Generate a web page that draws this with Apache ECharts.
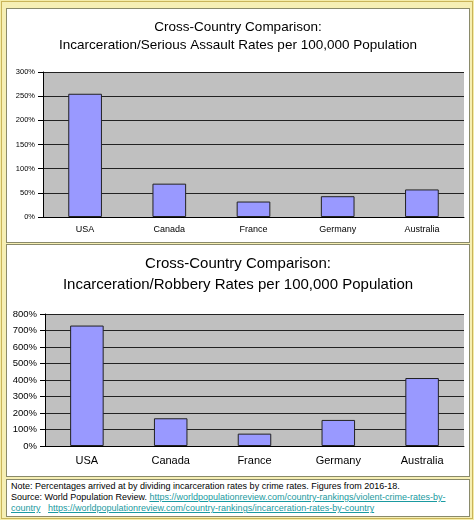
<!DOCTYPE html>
<html><head><meta charset="utf-8">
<script src="https://cdn.jsdelivr.net/npm/echarts@6/dist/echarts.min.js"></script>
<style>
body{margin:0;background:#f4eca8;font-family:Arial,"Liberation Sans",sans-serif;}
#frame{position:absolute;left:1px;top:1px;width:470px;height:516px;border:1px solid #c9b45a;background:#f6efb4;}
.panel{position:absolute;left:4px;width:462px;background:#fff;border:1px solid #8a8a6a;}
#note{position:absolute;left:4px;top:477px;width:454px;height:34px;background:#fff;border:1px solid #8a8a6a;font-size:9px;line-height:11px;padding:1px 4px;color:#000;}
#note a{color:#1a9aa0;}
</style></head>
<body>
<div id="frame">
  <div class="panel" id="p1" style="top:6px;height:233px"></div>
  <div class="panel" id="p2" style="top:242px;height:231px"></div>
  <div id="note">Note: Percentages arrived at by dividing incarceration rates by crime rates. Figures from 2016-18.<br>Source: World Population Review. <a href="#">https://worldpopulationreview.com/country-rankings/violent-crime-rates-by-country</a>&nbsp;&nbsp; <a href="#">https://worldpopulationreview.com/country-rankings/incarceration-rates-by-country</a></div>
</div>
<script>
const countries = ['USA', 'Canada', 'France', 'Germany', 'Australia'];
const assaultRates = [255, 69, 32, 43, 57];
const robberyRates = [730, 168, 75, 158, 412];

function makeChart(el, titleLines, data, max, interval, grid, sizes) {
  const chart = echarts.init(document.getElementById(el));
  chart.setOption({
    animation: false,
    title: {
      text: titleLines.join('\n'),
      left: 'center', top: sizes.titleTop,
      textStyle: { fontSize: sizes.title, fontWeight: 'normal', color: '#000', lineHeight: sizes.title * 1.35, fontFamily: 'Arial' },
    },
    grid: grid,
    xAxis: {
      type: 'category', data: countries,
      axisLine: { lineStyle: { color: '#000' } },
      axisTick: { lineStyle: { color: '#000' } },
      axisLabel: { color: '#000', fontSize: sizes.cat, margin: sizes.catMargin, fontFamily: 'Arial' },
    },
    yAxis: {
      type: 'value', min: 0, max: max, interval: interval,
      axisLine: { show: true, lineStyle: { color: '#000' } },
      axisTick: { show: true, lineStyle: { color: '#000' } },
      axisLabel: { color: '#000', fontSize: sizes.val, formatter: '{value}%', fontFamily: 'Arial' },
      splitLine: { lineStyle: { color: '#222', width: 1 } },
      splitArea: { show: true, areaStyle: { color: ['#c0c0c0'] } },
    },
    series: [{
      type: 'bar', data: data, barWidth: '40%',
      itemStyle: { color: '#9999ff', borderColor: '#222', borderWidth: 1 },
    }],
  });
}

makeChart('p1', ['Cross-Country Comparison:', 'Incarceration/Serious Assault Rates per 100,000 Population'],
  assaultRates, 300, 50, { left: 36, right: 5, top: 63, bottom: 25 },
  { title: 13.5, titleTop: 4, cat: 9, catMargin: 8, val: 7.5 });
makeChart('p2', ['Cross-Country Comparison:', 'Incarceration/Robbery Rates per 100,000 Population'],
  robberyRates, 800, 100, { left: 38, right: 5, top: 69, bottom: 30 },
  { title: 15, titleTop: 4, cat: 11, catMargin: 9, val: 9.5 });
</script>
</body></html>
